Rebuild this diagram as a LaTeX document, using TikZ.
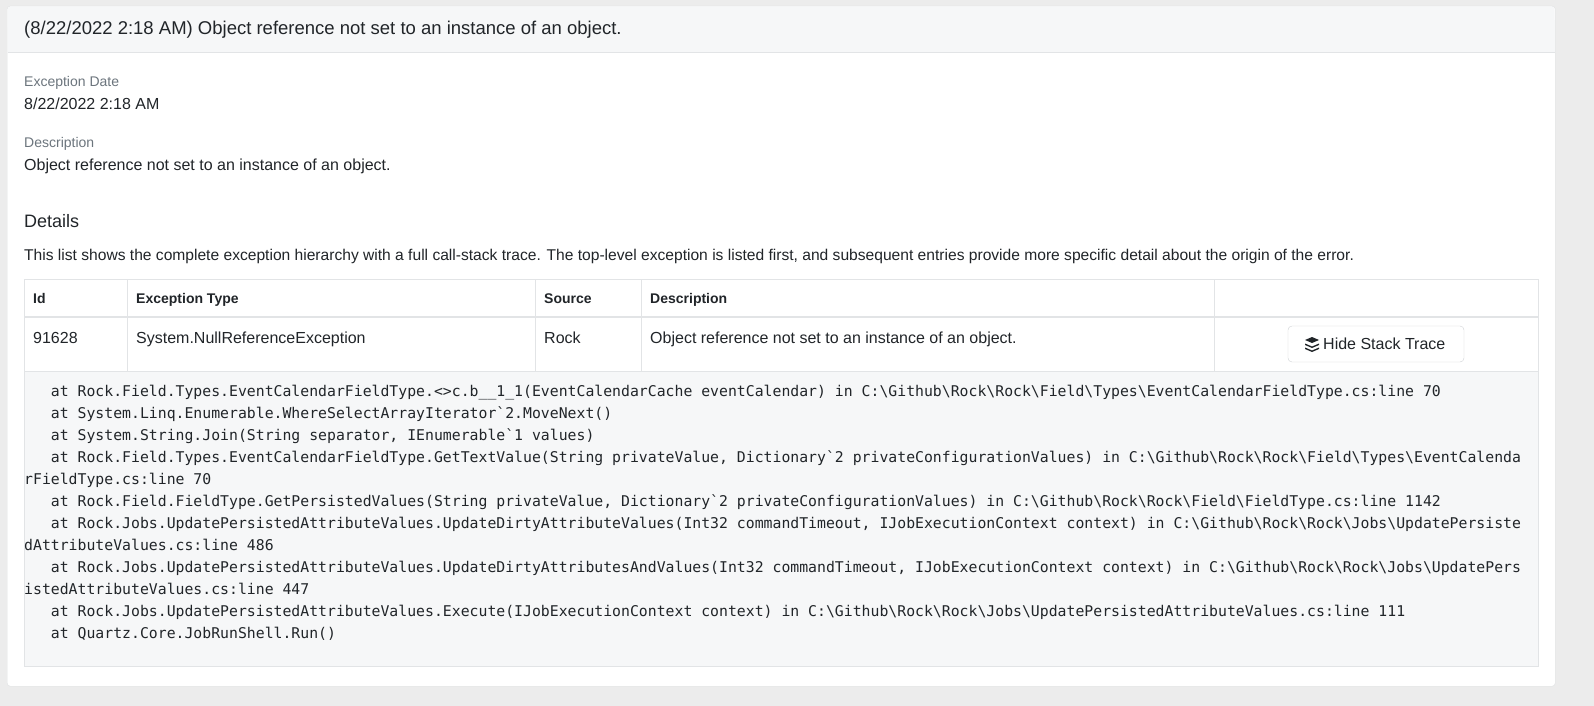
\documentclass[tikz,border=0pt]{standalone}
\usepackage{fontspec}
\setmainfont{Liberation Sans}
\newfontfamily\monof{DejaVu Sans Mono}
\definecolor{pagebg}{HTML}{ECECEC}
\definecolor{hdrbg}{HTML}{F6F7F8}
\definecolor{lineg}{HTML}{E2E4E6}
\definecolor{txt}{HTML}{212529}
\definecolor{muted}{HTML}{6C757D}
\definecolor{btnb}{HTML}{D0D3D6}
\tikzset{
 t/.style={anchor=base west,inner sep=0pt,text=txt,font=\fontsize{16}{16}\selectfont},
 lbl/.style={t,text=muted,font=\fontsize{14}{14}\selectfont},
 th/.style={t,font=\fontsize{14}{14}\selectfont\bfseries},
 tr/.style={t,font=\monof\fontsize{14.8}{14.8}\selectfont},
 grid/.style={draw=lineg,line width=1pt}
}
\begin{document}
\begin{tikzpicture}[x=1pt,y=-1pt]
\useasboundingbox (0,0) rectangle (1594,706);
\fill[pagebg] (0,0) rectangle (1594,706);
\node[draw=btnb!70,fill=white,rounded corners=3pt,minimum width=1548pt,minimum height=680pt,anchor=north west,inner sep=0pt] (card) at (7,6) {};
\fill[hdrbg,rounded corners=3pt] (7.5,6.5) rectangle (1554.5,30);
\fill[hdrbg] (7.5,20) rectangle (1554.5,53);
\draw[grid] (7.5,53) -- (1554.5,53);
\node[t,font=\fontsize{18.5}{18.5}\selectfont] (title) at (24,35) {(8/22/2022 2:18 AM) Object reference not set to an instance of an object.};
\node[lbl] (l1) at (24,87) {Exception Date};
\node[t] (v1) at (24,110) {8/22/2022 2:18 AM};
\node[lbl] (l2) at (24,147) {Description};
\node[t] (v2) at (24,170) {Object reference not set to an instance of an object.};
\node[t,font=\fontsize{18}{18}\selectfont] (det) at (24,227) {Details};
\node[t,font=\fontsize{15.6}{15.6}\selectfont] (para) at (24,260) {This list shows the complete exception hierarchy with a full call-stack trace. The top-level exception is listed first, and subsequent entries provide more specific detail about the origin of the error.};
% table
\fill[hdrbg] (24,371) rectangle (1538,666);
\draw[grid] (24,279) rectangle (1538,666);
\draw[grid,line width=2pt] (24,317) -- (1538,317);
\draw[grid] (24,371) -- (1538,371);
\foreach \x in {127,535,641,1214} \draw[grid] (\x,279) -- (\x,371);
\node[th] (h1) at (33,303) {Id};
\node[th] (h2) at (136,303) {Exception Type};
\node[th] (h3) at (544,303) {Source};
\node[th] (h4) at (650,303) {Description};
\node[t] (c1) at (33,343) {91628};
\node[t] (c2) at (136,343) {System.NullReferenceException};
\node[t] (c3) at (544,343) {Rock};
\node[t] (c4) at (650,343) {Object reference not set to an instance of an object.};
\node[draw=btnb,fill=white,rounded corners=4pt,minimum width=176pt,minimum height=36pt,inner sep=0pt] (btn) at (1376,344) {};
\node[anchor=west,inner sep=0pt,text=txt,font=\fontsize{16}{16}\selectfont] (btxt) at (1323,344) {Hide Stack Trace};
\begin{scope}[shift={(1312,344)},fill=txt]
\fill (0,-7) -- (7,-4) -- (0,-1) -- (-7,-4) -- cycle;
\fill (-7,-0.5) -- (0,2.5) -- (7,-0.5) -- (7,1) -- (0,4) -- (-7,1) -- cycle;
\fill (-7,3.5) -- (0,6.5) -- (7,3.5) -- (7,5) -- (0,8) -- (-7,5) -- cycle;
\end{scope}
% trace
\node[tr] (s1) at (24,396) {\ \ \ at Rock.Field.Types.EventCalendarFieldType.<>c.b\_\_1\_1(EventCalendarCache eventCalendar) in C:\textbackslash Github\textbackslash Rock\textbackslash Rock\textbackslash Field\textbackslash Types\textbackslash EventCalendarFieldType.cs:line 70};
\node[tr] (s2) at (24,418) {\ \ \ at System.Linq.Enumerable.WhereSelectArrayIterator`2.MoveNext()};
\node[tr] (s3) at (24,440) {\ \ \ at System.String.Join(String separator, IEnumerable`1 values)};
\node[tr] (s4) at (24,462) {\ \ \ at Rock.Field.Types.EventCalendarFieldType.GetTextValue(String privateValue, Dictionary`2 privateConfigurationValues) in C:\textbackslash Github\textbackslash Rock\textbackslash Rock\textbackslash Field\textbackslash Types\textbackslash EventCalenda};
\node[tr] (s5) at (24,484) {rFieldType.cs:line 70};
\node[tr] (s6) at (24,506) {\ \ \ at Rock.Field.FieldType.GetPersistedValues(String privateValue, Dictionary`2 privateConfigurationValues) in C:\textbackslash Github\textbackslash Rock\textbackslash Rock\textbackslash Field\textbackslash FieldType.cs:line 1142};
\node[tr] (s7) at (24,528) {\ \ \ at Rock.Jobs.UpdatePersistedAttributeValues.UpdateDirtyAttributeValues(Int32 commandTimeout, IJobExecutionContext context) in C:\textbackslash Github\textbackslash Rock\textbackslash Rock\textbackslash Jobs\textbackslash UpdatePersiste};
\node[tr] (s8) at (24,550) {dAttributeValues.cs:line 486};
\node[tr] (s9) at (24,572) {\ \ \ at Rock.Jobs.UpdatePersistedAttributeValues.UpdateDirtyAttributesAndValues(Int32 commandTimeout, IJobExecutionContext context) in C:\textbackslash Github\textbackslash Rock\textbackslash Rock\textbackslash Jobs\textbackslash UpdatePers};
\node[tr] (s10) at (24,594) {istedAttributeValues.cs:line 447};
\node[tr] (s11) at (24,616) {\ \ \ at Rock.Jobs.UpdatePersistedAttributeValues.Execute(IJobExecutionContext context) in C:\textbackslash Github\textbackslash Rock\textbackslash Rock\textbackslash Jobs\textbackslash UpdatePersistedAttributeValues.cs:line 111};
\node[tr] (s12) at (24,638) {\ \ \ at Quartz.Core.JobRunShell.Run()};
\end{tikzpicture}
\end{document}
